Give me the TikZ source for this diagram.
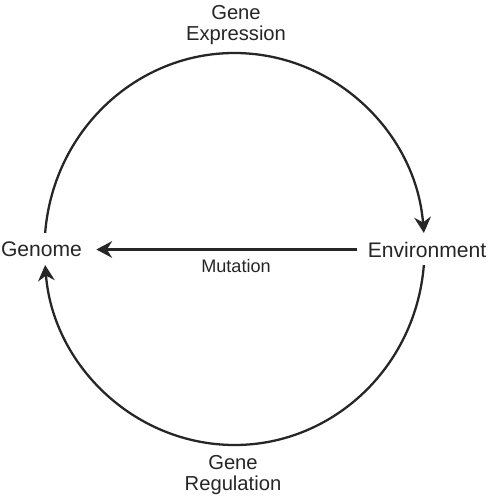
\documentclass[tikz,border=0pt]{standalone}
\usepackage{fontspec}
\setmainfont{Liberation Sans}
\usetikzlibrary{arrows.meta}

\begin{document}
\begin{tikzpicture}[
    x=0.02cm, y=-0.02cm,
    mainlabel/.style={inner sep=0pt, font=\fontsize{12}{14}\selectfont, text=black!85},
    cyclelabel/.style={inner sep=0pt, align=center, font=\fontsize{11.5}{11.8}\selectfont, text=black!85},
    arr/.style={-{Stealth[length=9pt, width=9.5pt, inset=3pt]}, line width=1.3pt, black!85}
  ]
    \useasboundingbox (0,0) rectangle (490,500);

    % Main labels
    \node[mainlabel] (genome)      at (41.5,249.5) {Genome};
    \node[mainlabel] (environment) at (427,249.5)  {Environment};
    \coordinate (hub) at (234.5,249);

    % Labels on the cycle
    \node[cyclelabel, anchor=north] (expression) at (236,5)   {Gene\\Expression};
    \node[cyclelabel, anchor=north] (regulation) at (233,455) {Gene\\Regulation};

    % Arcs round the cycle
    \draw[arr] (hub) ++(184.7:190 and 196)
      arc[start angle=184.7, end angle=355.3, x radius=190, y radius=196];
    \draw[arr] (hub) ++(4.7:190 and 196)
      arc[start angle=4.7, end angle=175.3, x radius=190, y radius=196];

    % Mutation
    \draw[arr, shorten <=5.7pt, shorten >=8pt] (environment.west) -- (genome.east);
    \node[inner sep=0pt, font=\fontsize{10.3}{12}\selectfont, text=black!85] (mutation)
      at (236,266.5) {Mutation};
\end{tikzpicture}
\end{document}
